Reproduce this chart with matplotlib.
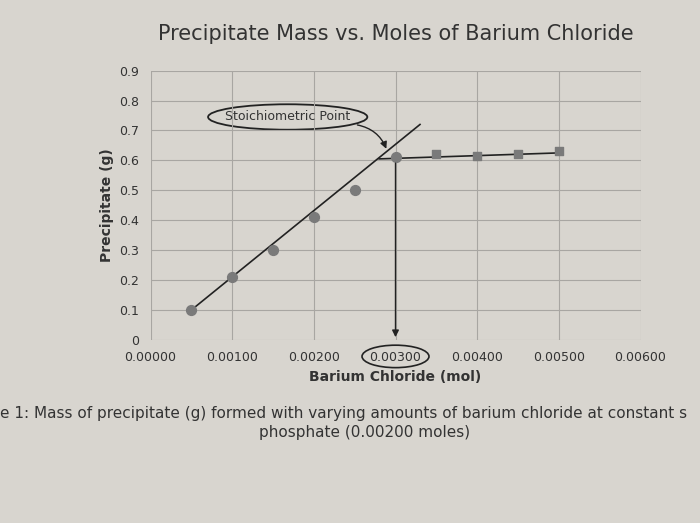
import matplotlib.pyplot as plt
from matplotlib.patches import Ellipse

x_circ = [0.0005, 0.0010, 0.0015, 0.0020, 0.0025, 0.0030]
y_circ = [0.10, 0.21, 0.30, 0.41, 0.50, 0.61]
x_sq = [0.0035, 0.0040, 0.0045, 0.0050]
y_sq = [0.62, 0.615, 0.62, 0.63]
fit1_x = [0.0005, 0.0033]
fit1_y = [0.10, 0.72]
fit2_x = [0.0028, 0.0050]
fit2_y = [0.605, 0.625]
xticks = [0, 0.001, 0.002, 0.003, 0.004, 0.005, 0.006]
yticks = [0, 0.1, 0.2, 0.3, 0.4, 0.5, 0.6, 0.7, 0.8, 0.9]

bg = '#d8d5cf'
fig = plt.figure(figsize=(7, 5.23), dpi=100, facecolor=bg)
ax = fig.add_axes([0.215, 0.35, 0.70, 0.515], facecolor=bg)
ax.set_xlim(0, 0.006)
ax.set_ylim(0, 0.9)
ax.set_xticks(xticks)
ax.set_xticklabels([f'{v:.5f}' for v in xticks])
ax.set_yticks(yticks)
ax.set_yticklabels(['0'] + [f'{v:.1f}' for v in yticks[1:]])
ax.grid(True, color='#a8a6a2', lw=0.8)
for s in ax.spines.values():
    s.set_visible(False)
ax.tick_params(length=0, colors='#333333', labelsize=9, pad=8)

ax.plot(fit1_x, fit1_y, color='#222222', lw=1.2)
ax.plot(fit2_x, fit2_y, color='#222222', lw=1.2)
ax.scatter(x_circ, y_circ, s=50, color='#7a7a7a', zorder=3)
ax.scatter(x_sq, y_sq, s=40, marker='s', color='#7a7a7a', zorder=3)

ax.annotate('', xy=(0.003, 0.0), xytext=(0.003, 0.6),
            arrowprops=dict(arrowstyle='-|>', color='#222222', lw=1))
ax.annotate('', xy=(0.0029, 0.63), xytext=(0.0025, 0.72),
            arrowprops=dict(arrowstyle='-|>', color='#222222', lw=1,
                            connectionstyle='arc3,rad=-0.3'))
ax.text(0.00168, 0.745, 'Stoichiometric Point', ha='center', va='center', fontsize=9, color='#333333')
ax.add_patch(Ellipse((0.00168, 0.745), 0.00195, 0.085, fill=False, ec='#222222', lw=1.3))
ax.add_patch(Ellipse((0.003, -0.055), 0.00082, 0.075, fill=False, ec='#222222', lw=1.2, clip_on=False))

ax.set_title('Precipitate Mass vs. Moles of Barium Chloride', fontsize=15, color='#333333', pad=22)
ax.set_xlabel('Barium Chloride (mol)', fontsize=10, fontweight='bold', color='#333333')
ax.set_ylabel('Precipitate (g)', fontsize=10, fontweight='bold', color='#333333')

fig.text(0.0, 0.20, 'e 1: Mass of precipitate (g) formed with varying amounts of barium chloride at constant s',
         fontsize=11, color='#333333')
fig.text(0.37, 0.165, 'phosphate (0.00200 moles)', fontsize=11, color='#333333')
fig.savefig('out.png', dpi=100, facecolor=bg)
